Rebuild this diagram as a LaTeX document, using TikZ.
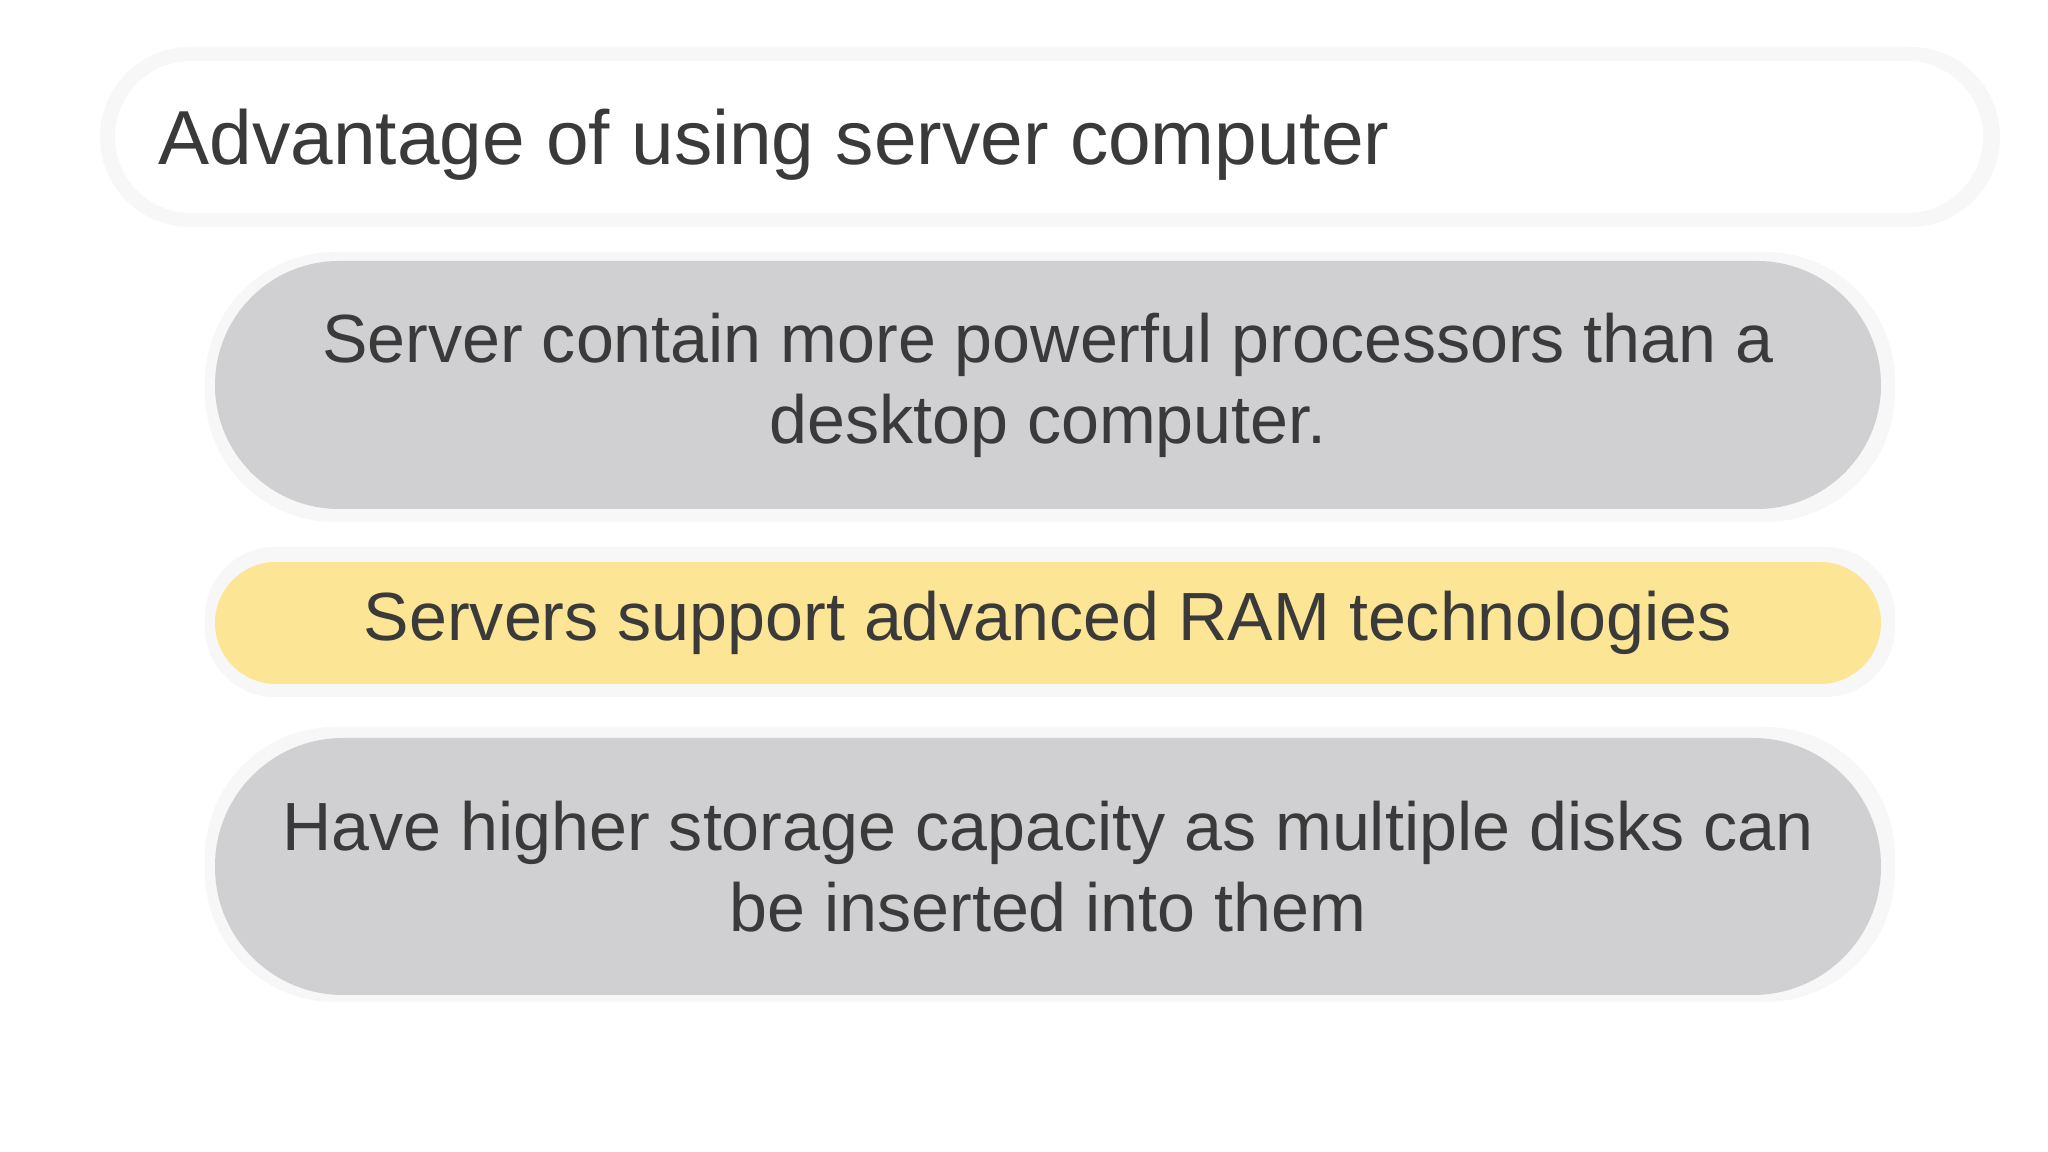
\documentclass[tikz,border=0pt]{standalone}
\usepackage{fontspec}
\setmainfont{Liberation Sans}
\usetikzlibrary{calc}
\definecolor{pillgray}{HTML}{D0CFD1}
\definecolor{pillyellow}{HTML}{FCE595}
\definecolor{txt}{HTML}{3A3A3A}
\tikzset{
  pill/.style={draw=none, rounded corners=#1, text=txt, align=center, font=\fontsize{19.4}{23}\selectfont},
  halo/.style={fill=black!3, draw=none}
}
\begin{document}
\begin{tikzpicture}
\useasboundingbox (0,0) rectangle (20.48,11.52);
\fill[white] (0,0) rectangle (20.48,11.52);

% soft halos behind the boxes
\fill[halo, rounded corners=9mm] (1.0,9.25) rectangle (20.0,11.05);
\fill[halo, rounded corners=13mm] (2.05,6.3) rectangle (18.95,9.0);
\fill[halo, rounded corners=7mm] (2.05,4.55) rectangle (18.95,6.05);
\fill[halo, rounded corners=13mm] (2.05,1.5) rectangle (18.95,4.25);

\draw node [pill=7.6mm, fill=white, minimum width=186.8mm, minimum height=15.2mm](title) at (10.49,10.15){};
\draw node [anchor=west, text=txt, font=\fontsize{21.8}{26}\selectfont] at ($ (title.west)+(3.2mm,-0.8mm)$){Advantage of using server computer};

\draw node [pill=12.4mm, fill=pillgray, minimum width=166.6mm, minimum height=24.8mm](procbox) at (10.48,7.67){Server contain more powerful processors than a\\desktop computer.};

\draw node [pill=6.1mm, fill=pillyellow, minimum width=166.6mm, minimum height=12.2mm](rambox) at (10.48,5.29){Servers support advanced RAM technologies};

\draw node [pill=12.8mm, fill=pillgray, minimum width=166.6mm, minimum height=25.7mm](diskbox) at (10.48,2.855){Have higher storage capacity as multiple disks can\\be inserted into them};

\end{tikzpicture}
\end{document}
